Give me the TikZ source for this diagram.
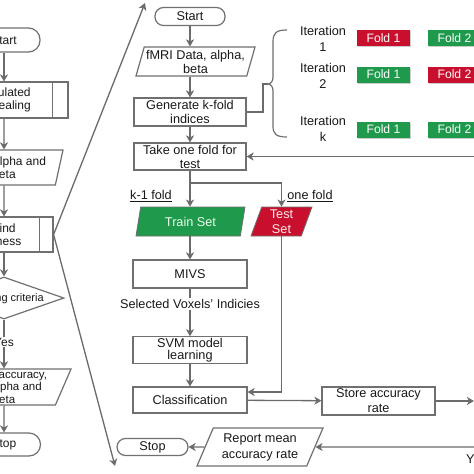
\documentclass[tikz,border=0pt]{standalone}
\usepackage{fontspec}
\setmainfont{Liberation Sans}
\usetikzlibrary{shapes.geometric,arrows.meta,calc,shadows}
\definecolor{lg}{HTML}{6B6B6B}
\definecolor{bc}{HTML}{707070}
\definecolor{fgreen}{HTML}{1F9A4C}
\definecolor{fred}{HTML}{C8102E}
\begin{document}
\begin{tikzpicture}[x=1pt,y=-1pt,
  every node/.style={font=\fontsize{12.7}{14}\selectfont, text=black!90, align=center},
  lft/.style={font=\fontsize{12}{13.5}\selectfont},
  box/.style={draw=bc, line width=1.2pt, rectangle, inner sep=1pt},
  term/.style={draw=bc, line width=1.2pt, rectangle, rounded corners=#1, inner sep=1pt},
  para/.style={draw=bc, line width=1.2pt, trapezium, trapezium left angle=#1, trapezium right angle={180-#1}, trapezium stretches body=true, inner sep=1pt},
  diam/.style={draw=bc, line width=1.2pt, diamond, inner sep=0pt},
  ln/.style={draw=lg, line width=1.3pt},
  arr/.style={ln, -{Stealth[length=7pt,width=8pt,inset=2pt]}},
  fold/.style={minimum width=53pt, minimum height=16pt, inner sep=0pt, text=white, font=\fontsize{12.2}{14}\selectfont, drop shadow={shadow xshift=1pt, shadow yshift=-1pt, opacity=0.4}},
  lbl/.style={inner sep=1pt},
]
\useasboundingbox (0,0) rectangle (474,474);
\fill[white] (0,0) rectangle (474,474);
\clip (0,0) rectangle (474,474);

% ---------------- left column (cropped) ----------------
\node[term=11.5pt, lft, minimum width=72pt, minimum height=24pt] (st0) at (4,40) {Start};
\node[box, lft, minimum width=128pt, minimum height=36pt] (sim) at (4,100) {Simulated\\Annealing};
\draw[draw=bc, line width=1.2pt] ([xshift=16pt]sim.north west) -- ([xshift=16pt]sim.south west);
\draw[draw=bc, line width=1.2pt] ([xshift=-16pt]sim.north east) -- ([xshift=-16pt]sim.south east);
\node[para=72.5, lft, minimum width=118pt, minimum height=35pt] (init) at (4,167.5) {Initial alpha and\\beta};
\node[box, lft, minimum width=98pt, minimum height=35pt] (fit) at (4,234.5) {Find\\fitness};
\draw[draw=bc, line width=1.2pt] ([xshift=14pt]fit.north west) -- ([xshift=14pt]fit.south west);
\draw[draw=bc, line width=1.2pt] ([xshift=-14pt]fit.north east) -- ([xshift=-14pt]fit.south east);
\node[diam, aspect=2.857, minimum width=120pt, minimum height=42pt, text height=8pt, text depth=1pt, font=\fontsize{11}{12}\selectfont] (stc) at (4,298) {Stopping criteria};
\node[lbl, lft] (yes) at (4,342) {Yes};
\node[para=66, minimum width=134pt, minimum height=36pt, font=\fontsize{11.5}{12.5}\selectfont] (rep2) at (4,387) {Report accuracy,\\best alpha and\\beta};
\node[term=11.5pt, lft, minimum width=73pt, minimum height=23pt] (stop0) at (4,444.5) {Stop};

\draw[arr] (st0) -- (sim);
\draw[arr] (sim) -- (init);
\draw[arr] (init) -- (fit);
\draw[arr] (fit) -- (stc);
\draw[ln] (stc) -- (yes);
\draw[arr] (yes) -- (rep2);
\draw[arr] (rep2) -- (stop0);

\coordinate (z1) at (145,3);
\coordinate (z2) at (115,466);
\draw[arr] (fit.east) -- (z1);
\draw[arr] (fit.east) -- (z2);

% ---------------- right column ----------------
\node[term=8.5pt, minimum width=70pt, minimum height=18pt] (s1) at (190,16.5) {Start};
\node[para=72, minimum width=119pt, minimum height=29pt] (fmri) at (195.5,61.5) {fMRI Data, alpha,\\beta};
\node[box, minimum width=112pt, minimum height=28pt] (gen) at (190,112) {Generate k-fold\\indices};
\node[box, minimum width=112pt, minimum height=27pt] (take) at (190,156.5) {Take one fold for\\test};
\node[para=67.5, minimum width=109pt, minimum height=29pt, fill=fgreen, draw=bc, line width=0.8pt, text=white!92!green] (train) at (190.5,221.5) {Train Set};
\node[para=67.5, minimum width=61pt, minimum height=29pt, fill=fred, draw=bc, line width=0.8pt, text=white!92!red, font=\fontsize{12.7}{15}\selectfont] (test) at (281.5,221.5) {Test\\Set};
\node[box, minimum width=114pt, minimum height=28pt] (mivs) at (190,274) {MIVS};
\node[lbl] (sel) at (190,304) {Selected Voxels' Indicies};
\node[box, minimum width=114pt, minimum height=26pt, font=\fontsize{12.7}{12.5}\selectfont] (svm) at (190,350) {SVM model\\learning};
\node[box, minimum width=114pt, minimum height=26pt] (cls) at (190,400) {Classification};
\node[box, minimum width=113pt, minimum height=28pt, font=\fontsize{12.7}{15}\selectfont] (store) at (378.5,401) {Store accuracy\\rate};
\node[para=61, minimum width=126pt, minimum height=38pt, font=\fontsize{12.7}{16}\selectfont] (rep) at (260,447) {Report mean\\accuracy rate};
\node[term=8.5pt, minimum width=71pt, minimum height=17pt] (stop2) at (152.5,447) {Stop};

\node[lbl] (k1) at (151,196) {\underline{k-1 fold}};
\node[lbl] (of) at (310,196) {\underline{one fold}};

\coordinate (j) at (190,183);
\coordinate (r1) at (474,156.5);
\coordinate (r2) at (474,401);
\coordinate (r3) at (474,447);
\node[lbl, anchor=west] (yesr) at (465,459) {Yes};

\draw[arr] (s1.south) -- (s1.south |- fmri.north);
\draw[arr] (fmri.south -| gen.north) -- (gen.north);
\draw[arr] (gen) -- (take);
\draw[ln] (take.south) -- (j);
\draw[arr] (j) -- (train.north -| j);
\draw[arr] (j) -| (test.north);
\draw[arr] (train.south -| mivs.north) -- (mivs.north);
\draw[ln] (mivs) -- (sel);
\draw[arr] (sel) -- (svm);
\draw[arr] (svm) -- (cls);
\draw[arr] (test.south) |- ([yshift=8pt]cls.east);
\draw[arr] (cls) -- (store);
\draw[arr] (store) -- (r2);
\draw[arr] (r1) -- (take.east);
\draw[arr] (r3) -- (rep.east);
\draw[arr] (rep.west) -- (stop2.east);

% ---------------- k-fold panel ----------------
\coordinate (bt) at (268,84);
\draw[draw=bc, line width=1.2pt] (287,30) .. controls (276,30) and (273,33) .. (273,42) -- (273,77) .. controls (273,81) and (271,84) .. (bt) .. controls (271,84) and (273,87) .. (273,91) -- (273,126) .. controls (273,134) and (276,137) .. (287,137);
\draw[ln] (gen.east) -| (263,84) -- (bt);

\node[font=\fontsize{12.7}{16}\selectfont] (it1) at (323,39) {Iteration\\1};
\node[font=\fontsize{12.7}{16}\selectfont] (it2) at (323,75.5) {Iteration\\2};
\node[font=\fontsize{12.7}{16}\selectfont] (itk) at (323,129) {Iteration\\k};

\node[fold, fill=fred] (f11) at (383.5,38) {Fold 1};
\node[fold, fill=fgreen] (f12) at (454.5,38) {Fold 2};
\node[fold, fill=fgreen] (f21) at (383.5,74.5) {Fold 1};
\node[fold, fill=fred] (f22) at (454.5,74.5) {Fold 2};
\node[fold, fill=fgreen] (fk1) at (383.5,129.5) {Fold 1};
\node[fold, fill=fgreen] (fk2) at (454.5,129.5) {Fold 2};
\end{tikzpicture}
\end{document}
